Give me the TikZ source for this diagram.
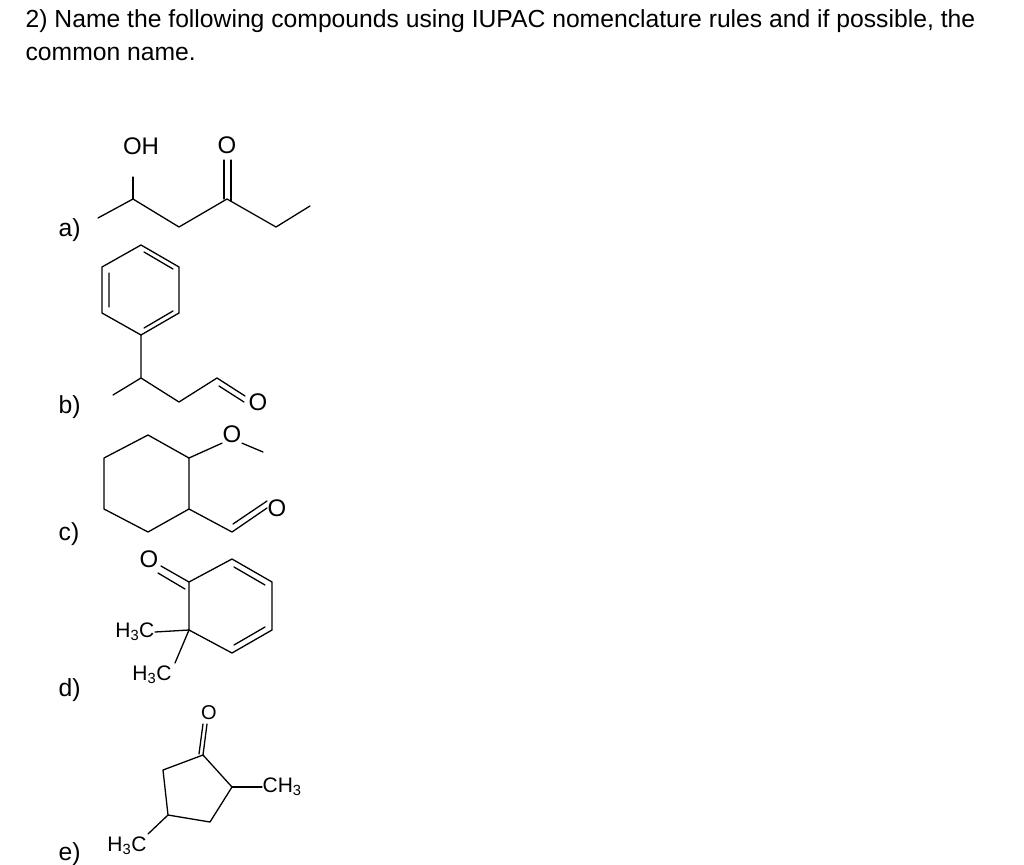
\documentclass[tikz,border=0pt]{standalone}
\usepackage{fontspec}
\setmainfont{Liberation Sans}
\begin{document}
\begin{tikzpicture}[x=1pt,y=-1pt,line width=1.3pt,
 bnd/.style={draw,line cap=round,line join=round},
 atom/.style={inner sep=0pt,font=\fontsize{24}{26}\selectfont},
 small/.style={inner sep=0pt,font=\fontsize{21}{23}\selectfont},
 lab/.style={inner sep=0pt,anchor=base west,font=\fontsize{24.7}{27}\selectfont}]
\useasboundingbox (0,0) rectangle (1024,864);
\node[lab] (t1) at (25,28) {2) Name the following compounds using IUPAC nomenclature rules and if possible, the};
\node[lab] (t2) at (25,61) {common name.};
\node[lab] (la) at (58,236) {a)};
\node[lab] (lb) at (58,413) {b)};
\node[lab] (lc) at (58,540) {c)};
\node[lab] (ld) at (58,696) {d)};
\node[lab] (le) at (58,860) {e)};
% a
\coordinate (a1) at (98,218); \coordinate (a2) at (133,199); \coordinate (a3) at (179,227);
\coordinate (a4) at (227,199); \coordinate (a5) at (276,227); \coordinate (a6) at (310,206);
\coordinate (a2t) at (133,177);
\node[atom] (oh) at (141,146) {OH};
\node[atom] (ao) at (227,145) {O};
\draw[bnd] (a1)--(a2)--(a3)--(a4)--(a5)--(a6);
\draw[bnd] (a2)--(a2t);
\draw[bnd] (224,199)--(224,160) (231,201)--(231,160);
% b
\coordinate (b1) at (141,245); \coordinate (b2) at (179,267); \coordinate (b3) at (179,313);
\coordinate (b4) at (141,335); \coordinate (b5) at (102,313); \coordinate (b6) at (102,267);
\draw[bnd] (b1)--(b2)--(b3)--(b4)--(b5)--(b6)--cycle;
\draw[bnd] (144,252)--(173,269) (109,273)--(109,307) (144,328)--(173,311);
\coordinate (b7) at (141,378); \coordinate (b8) at (113,395); \coordinate (b9) at (179,402);
\coordinate (b10) at (217,378); \coordinate (b11) at (245,396);
\node[atom] (bo) at (258,402) {O};
\draw[bnd] (b4)--(b7)--(b8) (b7)--(b9)--(b10)--(b11);
\draw[bnd] (219,386)--(244,402);
% c
\coordinate (c1) at (148,435); \coordinate (c2) at (189,458); \coordinate (c3) at (189,509);
\coordinate (c4) at (148,532); \coordinate (c5) at (104,509); \coordinate (c6) at (104,458);
\draw[bnd] (c1)--(c2)--(c3)--(c4)--(c5)--(c6)--cycle;
\node[atom] (co1) at (232,434) {O};
\coordinate (cme) at (263,452);
\draw[bnd] (c2)--(co1.south west);
\draw[bnd] (co1.south east)--(cme);
\coordinate (c7) at (232,532);
\node[atom] (co2) at (277,508) {O};
\draw[bnd] (c3)--(c7)--(co2.west);
\draw[bnd] (233,524)--(co2.west|-0,501);
% d
\coordinate (d1) at (189,582); \coordinate (d2) at (232,559); \coordinate (d3) at (272,582);
\coordinate (d4) at (272,630); \coordinate (d5) at (232,653); \coordinate (d6) at (189,630);
\draw[bnd] (d1)--(d2)--(d3)--(d4)--(d5)--(d6)--cycle;
\draw[bnd] (234,567)--(265,585) (234,645)--(265,627);
\node[atom] (do) at (149,559) {O};
\draw[bnd] (d1)--(161,566) (185,589)--(158,573);
\node[small,anchor=east] (dm1) at (155,632) {H\textsubscript{3}C};
\draw[bnd] (d6)--(dm1.east);
\node[small] (dm2) at (152,675) {H\textsubscript{3}C};
\draw[bnd] (d6)--(175,663);
% e
\coordinate (e1) at (203,755); \coordinate (e2) at (232,787); \coordinate (e3) at (210,822);
\coordinate (e4) at (168,815); \coordinate (e5) at (163,770);
\draw[bnd] (e1)--(e2)--(e3)--(e4)--(e5)--cycle;
\node[atom,font=\fontsize{20}{22}\selectfont] (eo) at (209,713) {O};
\draw[bnd] (e1)--(207,724) (199,754)--(203,724);
\node[small,anchor=west] (em1) at (262,787) {CH\textsubscript{3}};
\draw[bnd] (e2)--(em1.west);
\node[small] (em2) at (127,846) {H\textsubscript{3}C};
\draw[bnd] (e4)--(148,834);
\end{tikzpicture}
\end{document}
